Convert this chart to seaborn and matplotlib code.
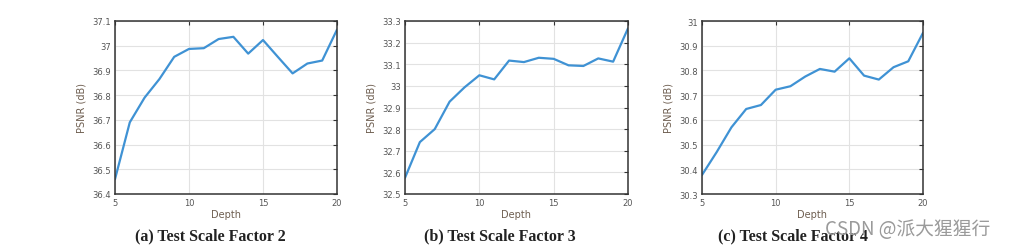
import numpy as np
import pandas as pd
import matplotlib
matplotlib.use("Agg")
import matplotlib.pyplot as plt
import seaborn as sns

depth = list(range(5, 21))
psnr_x2 = [36.46, 36.69, 36.79, 36.865, 36.955, 36.987, 36.99, 37.027, 37.036,
           36.968, 37.023, 36.955, 36.888, 36.928, 36.94, 37.065]
psnr_x3 = [32.575, 32.74, 32.80, 32.927, 32.993, 33.049, 33.03, 33.117, 33.11,
           33.13, 33.125, 33.095, 33.092, 33.127, 33.112, 33.266]
psnr_x4 = [30.377, 30.47, 30.57, 30.644, 30.66, 30.722, 30.736, 30.775, 30.806,
           30.795, 30.849, 30.779, 30.763, 30.813, 30.837, 30.952]

captions = ["(a) Test Scale Factor 2", "(b) Test Scale Factor 3", "(c) Test Scale Factor 4"]
ylims = [(36.4, 37.1), (32.5, 33.3), (30.3, 31.0)]
yticks = [
    [36.4, 36.5, 36.6, 36.7, 36.8, 36.9, 37.0, 37.1],
    [32.5, 32.6, 32.7, 32.8, 32.9, 33.0, 33.1, 33.2, 33.3],
    [30.3, 30.4, 30.5, 30.6, 30.7, 30.8, 30.9, 31.0],
]
xticks = [5, 10, 15, 20]

sns.set_style("white")
plt.rcParams['font.family'] = ['DejaVu Sans']

W, H = 1011, 251
fig = plt.figure(figsize=(W / 100, H / 100), dpi=100)

boxes = [(115, 337), (405, 628), (702, 923)]
top_px, bot_px = 22, 195
cap_x = [210, 500, 793]

series = [psnr_x2, psnr_x3, psnr_x4]
for i, (l, r) in enumerate(boxes):
    ax = fig.add_axes([l / W, (H - bot_px) / H, (r - l) / W, (bot_px - top_px) / H])
    df = pd.DataFrame({"Depth": depth, "PSNR": series[i]})
    sns.lineplot(data=df, x="Depth", y="PSNR", ax=ax, color="#3f92d4", linewidth=1.6)
    ax.set_xlim(5, 20)
    ax.set_ylim(*ylims[i])
    ax.set_xticks(xticks)
    ax.set_yticks(yticks[i])
    ax.set_yticklabels([("%g" % v) for v in yticks[i]])
    ax.grid(True, color="#e2e2e2", linewidth=0.8)
    ax.set_axisbelow(True)
    for s in ax.spines.values():
        s.set_color("#333333")
        s.set_linewidth(1.1)
    ax.tick_params(direction="in", length=3, width=0.8, labelsize=6, colors="#333333",
                   labelcolor="#555555", top=True, right=True, pad=3)
    ax.set_xlabel("Depth", fontsize=7, color="#6e5e50", labelpad=1)
    ax.set_ylabel("PSNR (dB)", fontsize=7, color="#6e5e50", labelpad=4)
    fig.text(cap_x[i] / W, (H - 236) / H, captions[i], ha="center", va="center",
             fontsize=11.5, fontweight="bold", family="Liberation Serif", color="#222222")

fig.text(908 / W, (H - 230) / H, "CSDN @派大猩猩行", ha="center", va="center",
         fontsize=13.5, color="#9a9a9a", family=["Noto Sans CJK SC", "DejaVu Sans"])

fig.savefig("out.png", dpi=100, facecolor="white")
